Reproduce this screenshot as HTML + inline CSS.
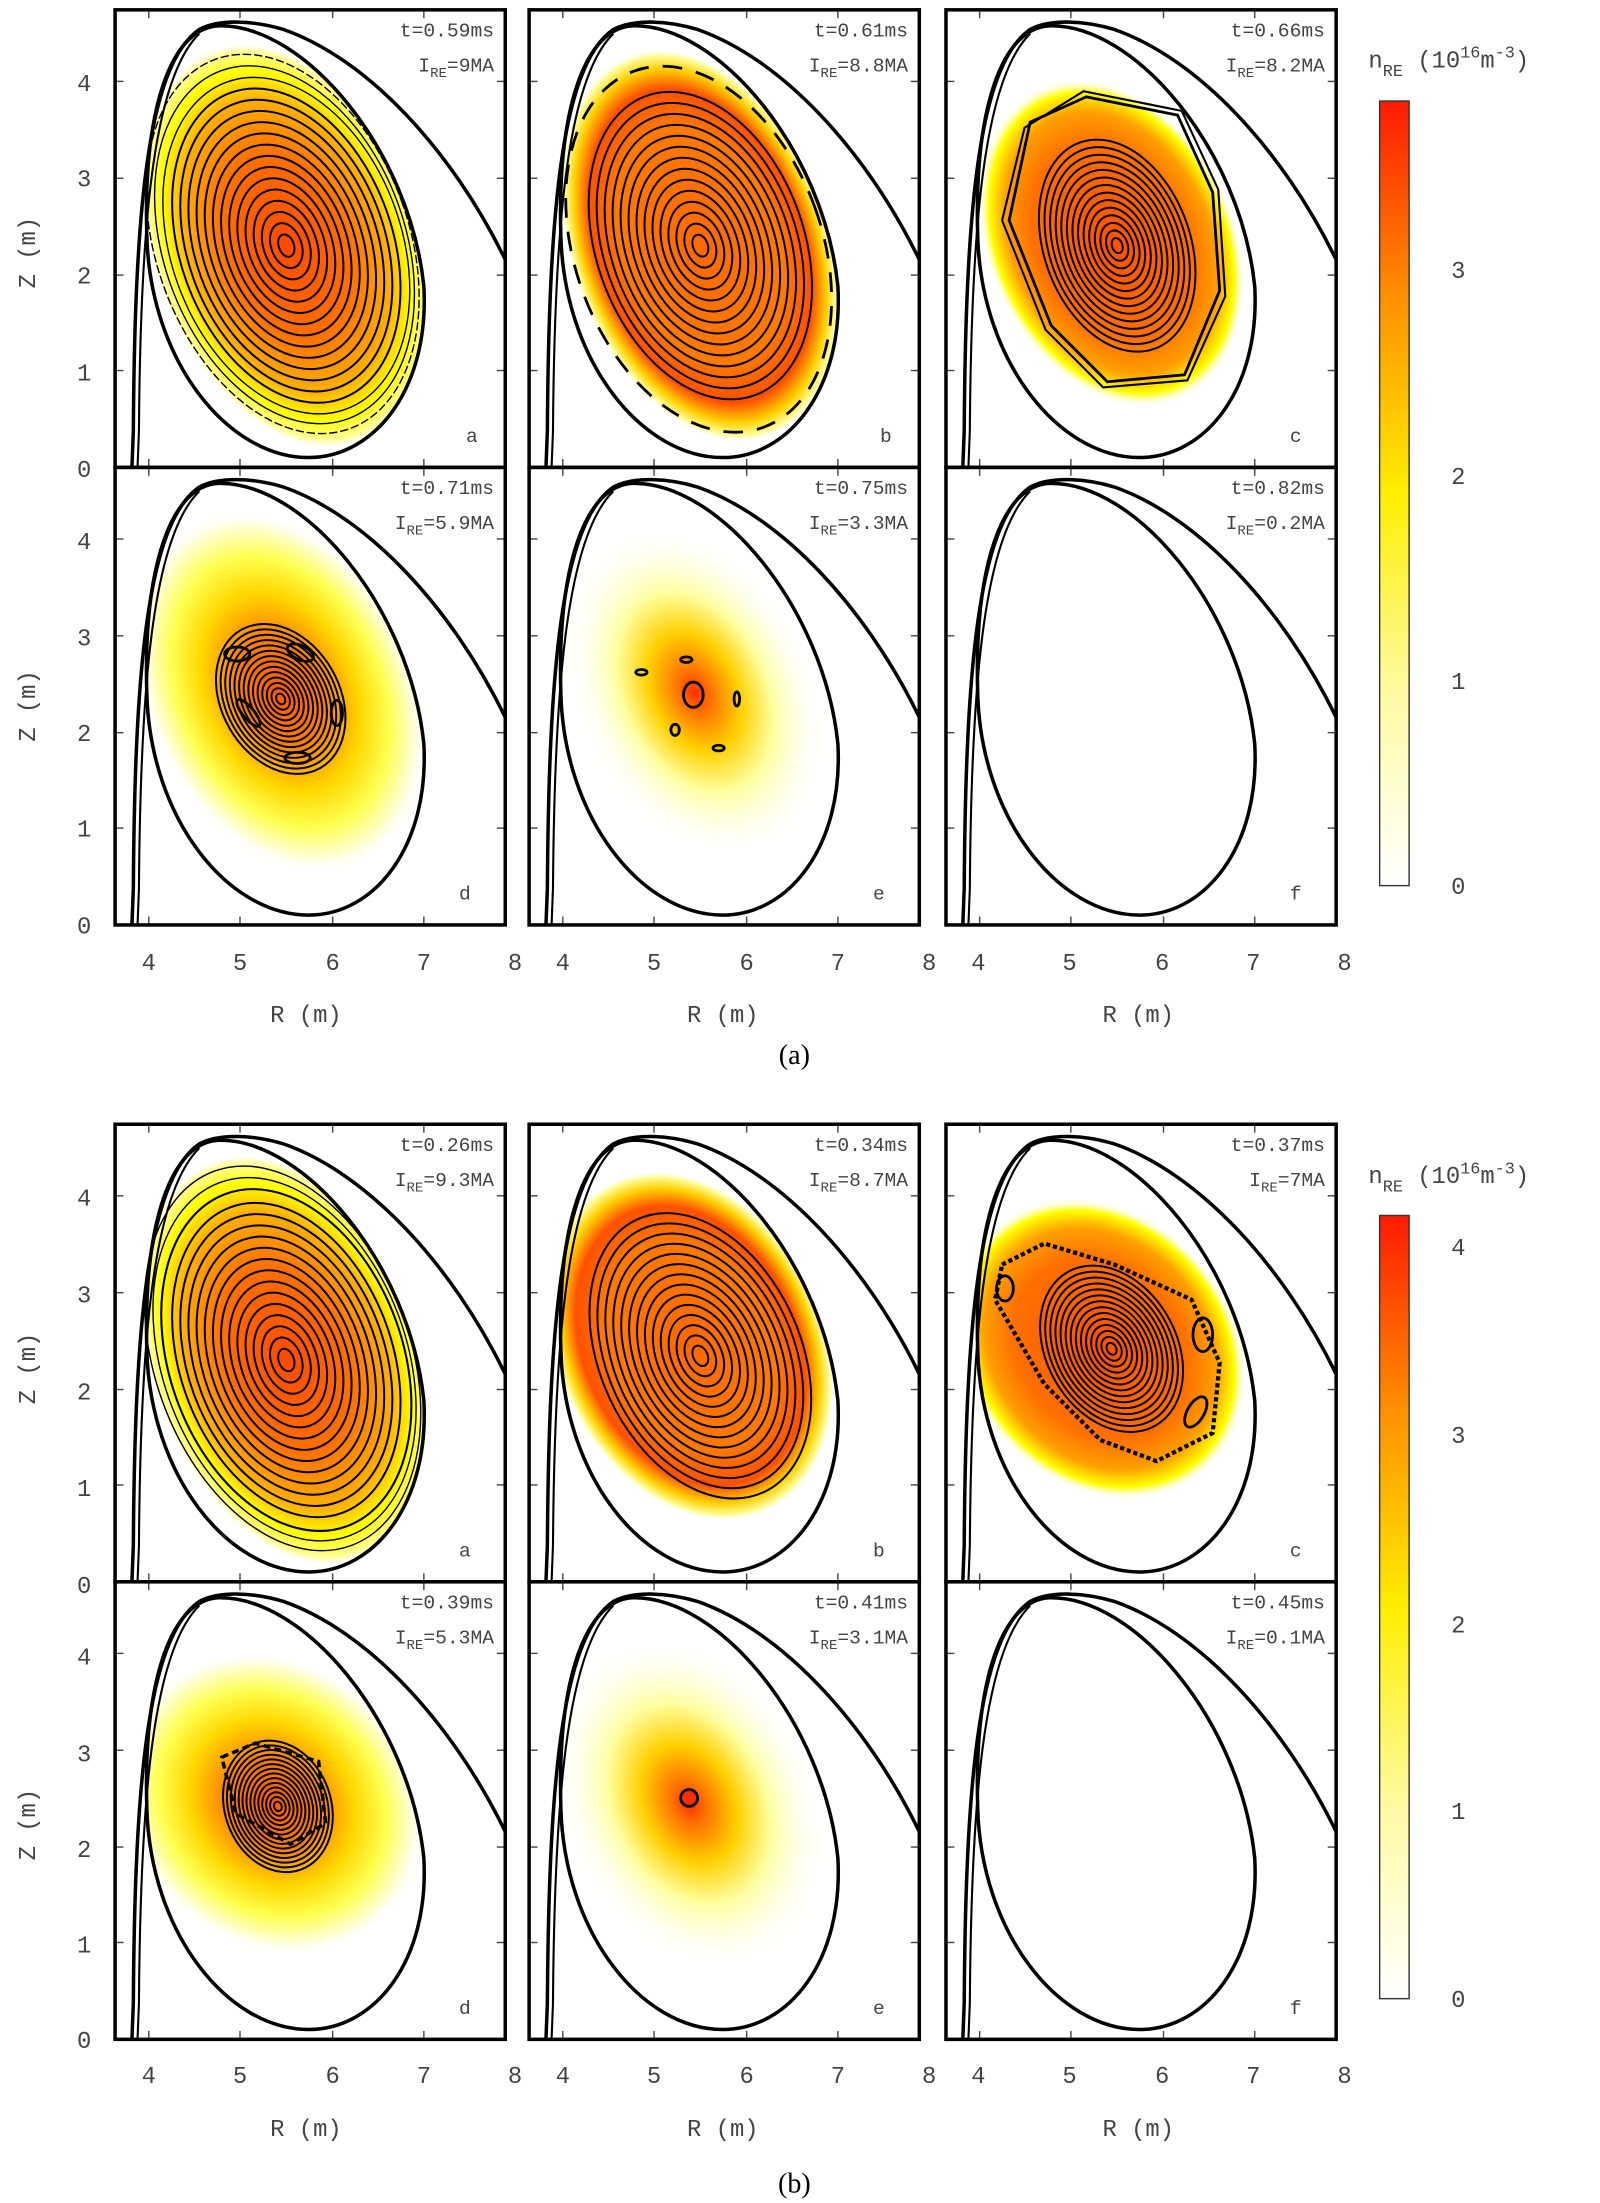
<!DOCTYPE html>
<html><head><meta charset="utf-8"><style>
html,body{margin:0;padding:0;background:#fff}
svg{display:block}
text{font-family:"Liberation Mono",monospace;fill:#444}
.tk{font-size:17px}
.tl{font-size:14px}
</style></head><body>
<svg width="1600" height="2203" viewBox="0 0 1140 1569.6" preserveAspectRatio="none" xmlns="http://www.w3.org/2000/svg">
<defs>
<clipPath id="pc"><rect x="0" y="0" width="278" height="326"/></clipPath>
<clipPath id="egg"><path d="M73.6,11.4 C135,10 210,100 220,197 C224,270 185,319 138,319 C80,319 25,250 22.6,161 C20,70 40,13 73.6,11.4 Z"/></clipPath>
<linearGradient id="cb" x1="0" y1="1" x2="0" y2="0">
<stop offset="0" stop-color="#ffffff"/><stop offset="0.25" stop-color="#fffaa0"/><stop offset="0.5" stop-color="#ffee00"/><stop offset="0.75" stop-color="#ff9000"/><stop offset="1" stop-color="#ff1a00"/></linearGradient>
<radialGradient id="gA"><stop offset="0" stop-color="#ff4a00"/><stop offset="0.45" stop-color="#ff7000"/><stop offset="0.72" stop-color="#ffb000"/><stop offset="0.86" stop-color="#ffff00"/><stop offset="0.96" stop-color="#ffffa0"/><stop offset="1" stop-color="#fff" stop-opacity="0"/></radialGradient>
<radialGradient id="gB"><stop offset="0" stop-color="#ff6800"/><stop offset="0.6" stop-color="#ff7a00"/><stop offset="0.8" stop-color="#ff5000"/><stop offset="0.9" stop-color="#ffd000"/><stop offset="0.97" stop-color="#ffffa0"/><stop offset="1" stop-color="#fff" stop-opacity="0"/></radialGradient>
<radialGradient id="gC"><stop offset="0" stop-color="#ff5000"/><stop offset="0.6" stop-color="#ff7000"/><stop offset="0.8" stop-color="#ffa000"/><stop offset="0.92" stop-color="#ffff00"/><stop offset="1" stop-color="#fff" stop-opacity="0"/></radialGradient>
<radialGradient id="gD"><stop offset="0" stop-color="#ff5a00"/><stop offset="0.3" stop-color="#ff8000"/><stop offset="0.55" stop-color="#ffd800"/><stop offset="0.75" stop-color="#ffff50"/><stop offset="0.92" stop-color="#ffffd8"/><stop offset="1" stop-color="#fff" stop-opacity="0"/></radialGradient>
<radialGradient id="gE"><stop offset="0" stop-color="#ff3000"/><stop offset="0.12" stop-color="#ff7000"/><stop offset="0.35" stop-color="#ffd000"/><stop offset="0.6" stop-color="#ffffa0"/><stop offset="1" stop-color="#fff" stop-opacity="0"/></radialGradient>
<g id="rings" fill="none" stroke="#000" stroke-width="2">
<ellipse rx="6" ry="9" vector-effect="non-scaling-stroke"/><ellipse rx="12" ry="18" vector-effect="non-scaling-stroke"/><ellipse rx="18" ry="27" vector-effect="non-scaling-stroke"/><ellipse rx="24" ry="36" vector-effect="non-scaling-stroke"/><ellipse rx="30" ry="45" vector-effect="non-scaling-stroke"/><ellipse rx="36" ry="54" vector-effect="non-scaling-stroke"/><ellipse rx="42" ry="63" vector-effect="non-scaling-stroke"/><ellipse rx="48" ry="72" vector-effect="non-scaling-stroke"/><ellipse rx="54" ry="81" vector-effect="non-scaling-stroke"/><ellipse rx="60" ry="90" vector-effect="non-scaling-stroke"/><ellipse rx="66" ry="99" vector-effect="non-scaling-stroke"/><ellipse rx="72" ry="108" vector-effect="non-scaling-stroke"/><ellipse rx="78" ry="117" vector-effect="non-scaling-stroke"/><ellipse rx="84" ry="126" vector-effect="non-scaling-stroke"/>
</g>
<g id="frame">
<path d="M12,326 L13,300 C14,150 22,40 60,14 C75,6 100,8 120,14 C180,35 240,100 278,178" fill="none" stroke="#000" stroke-width="2.5"/>
<path d="M16,326 L17,300 C18,160 26,50 60,17" fill="none" stroke="#000" stroke-width="1.5"/>
<path d="M73.6,11.4 C135,10 210,100 220,197 C224,270 185,319 138,319 C80,319 25,250 22.6,161 C20,70 40,13 73.6,11.4 Z" fill="none" stroke="#000" stroke-width="2.5"/>
<g stroke="#444" stroke-width="1"><line x1="24" y1="326" x2="24" y2="320"/><line x1="89" y1="326" x2="89" y2="320"/><line x1="155" y1="326" x2="155" y2="320"/><line x1="220" y1="326" x2="220" y2="320"/><line x1="24" y1="0" x2="24" y2="6"/><line x1="89" y1="0" x2="89" y2="6"/><line x1="155" y1="0" x2="155" y2="6"/><line x1="220" y1="0" x2="220" y2="6"/>
<line x1="0" y1="257" x2="6" y2="257"/><line x1="0" y1="189" x2="6" y2="189"/><line x1="0" y1="120" x2="6" y2="120"/><line x1="0" y1="51" x2="6" y2="51"/><line x1="278" y1="257" x2="272" y2="257"/><line x1="278" y1="189" x2="272" y2="189"/><line x1="278" y1="120" x2="272" y2="120"/><line x1="278" y1="51" x2="272" y2="51"/></g>
<rect x="0" y="0" width="278" height="326" fill="none" stroke="#000" stroke-width="2.5"/>
</g>
</defs>

<!-- ===== Figure (a) ===== -->
<g transform="translate(82,7)"><g clip-path="url(#pc)">
<g clip-path="url(#egg)"><ellipse cx="122" cy="168" rx="95" ry="150" transform="rotate(-20 122 168)" fill="url(#gA)"/></g>
<use href="#rings" transform="translate(122,168) rotate(-20) scale(0.9 0.92)"/>
<ellipse cx="122" cy="168" rx="82" ry="124" transform="rotate(-20 122 168)" fill="none" stroke="#000" stroke-width="1"/>
<ellipse cx="121" cy="167" rx="86" ry="132" transform="rotate(-20 122 168)" fill="none" stroke="#000" stroke-width="1"/>
<ellipse cx="120" cy="166" rx="90" ry="140" transform="rotate(-20 122 168)" fill="none" stroke="#000" stroke-width="1" stroke-dasharray="6 2"/>
</g><use href="#frame"/>
<text class="tl" x="270" y="19" text-anchor="end">t=0.59ms</text><text class="tl" x="270" y="44" text-anchor="end">I<tspan font-size="10" dy="4">RE</tspan><tspan dy="-4">=9MA</tspan></text><text class="tl" x="250" y="308">a</text></g>
<g transform="translate(377,7)"><g clip-path="url(#pc)">
<g clip-path="url(#egg)"><ellipse cx="122" cy="168" rx="92" ry="145" transform="rotate(-20 122 168)" fill="url(#gB)"/></g>
<use href="#rings" transform="translate(122,168) rotate(-20) scale(0.88 0.9)"/>
<ellipse cx="120" cy="170" rx="88" ry="135" transform="rotate(-20 122 168)" fill="none" stroke="#000" stroke-width="2" stroke-dasharray="14 10"/>
</g><use href="#frame"/>
<text class="tl" x="270" y="19" text-anchor="end">t=0.61ms</text><text class="tl" x="270" y="44" text-anchor="end">I<tspan font-size="10" dy="4">RE</tspan><tspan dy="-4">=8.8MA</tspan></text><text class="tl" x="250" y="308">b</text></g>
<g transform="translate(674,7)"><g clip-path="url(#pc)">
<g clip-path="url(#egg)"><ellipse cx="118" cy="166" rx="88" ry="122" transform="rotate(-25 118 166)" fill="url(#gC)"/></g>
<use href="#rings" transform="translate(122,168) rotate(-20) scale(0.62)"/>
<path d="M60,80 L100,62 L165,75 L190,130 L195,200 L170,260 L115,265 L75,225 L45,150 Z" fill="none" stroke="#000" stroke-width="2"/>
<path d="M56,84 L98,58 L168,72 L194,128 L199,204 L172,264 L112,269 L71,228 L40,150 Z" fill="none" stroke="#000" stroke-width="1.5"/>
</g><use href="#frame"/>
<text class="tl" x="270" y="19" text-anchor="end">t=0.66ms</text><text class="tl" x="270" y="44" text-anchor="end">I<tspan font-size="10" dy="4">RE</tspan><tspan dy="-4">=8.2MA</tspan></text><text class="tl" x="245" y="308">c</text></g>
<g transform="translate(82,333)"><g clip-path="url(#pc)">
<g clip-path="url(#egg)"><ellipse cx="118" cy="160" rx="95" ry="135" transform="rotate(-25 118 160)" fill="url(#gD)"/></g>
<use href="#rings" transform="translate(118,165) rotate(-30) scale(0.5 0.45)"/>
<ellipse cx="87" cy="133" rx="9" ry="5" fill="none" stroke="#000" stroke-width="2"/>
<ellipse cx="132" cy="132" rx="10" ry="5" transform="rotate(25 132 132)" fill="none" stroke="#000" stroke-width="2"/>
<ellipse cx="95" cy="175" rx="12" ry="4" transform="rotate(50 95 175)" fill="none" stroke="#000" stroke-width="2"/>
<ellipse cx="158" cy="175" rx="4" ry="9" fill="none" stroke="#000" stroke-width="2"/>
<ellipse cx="130" cy="207" rx="9" ry="4" fill="none" stroke="#000" stroke-width="2"/>
</g><use href="#frame"/>
<text class="tl" x="270" y="19" text-anchor="end">t=0.71ms</text><text class="tl" x="270" y="44" text-anchor="end">I<tspan font-size="10" dy="4">RE</tspan><tspan dy="-4">=5.9MA</tspan></text><text class="tl" x="245" y="308">d</text></g>
<g transform="translate(377,333)"><g clip-path="url(#pc)">
<g clip-path="url(#egg)"><ellipse cx="118" cy="160" rx="85" ry="125" transform="rotate(-25 118 160)" fill="url(#gE)"/></g>
<ellipse cx="117" cy="162" rx="7" ry="9" fill="none" stroke="#000" stroke-width="2"/>
<ellipse cx="112" cy="137" rx="4" ry="2" fill="none" stroke="#000" stroke-width="2"/>
<ellipse cx="80" cy="146" rx="4" ry="2" fill="none" stroke="#000" stroke-width="2"/>
<ellipse cx="148" cy="165" rx="2" ry="5" fill="none" stroke="#000" stroke-width="2"/>
<ellipse cx="104" cy="187" rx="3" ry="4" fill="none" stroke="#000" stroke-width="2"/>
<ellipse cx="135" cy="200" rx="4" ry="2" fill="none" stroke="#000" stroke-width="2"/>
</g><use href="#frame"/>
<text class="tl" x="270" y="19" text-anchor="end">t=0.75ms</text><text class="tl" x="270" y="44" text-anchor="end">I<tspan font-size="10" dy="4">RE</tspan><tspan dy="-4">=3.3MA</tspan></text><text class="tl" x="245" y="308">e</text></g>
<g transform="translate(674,333)"><use href="#frame"/>
<text class="tl" x="270" y="19" text-anchor="end">t=0.82ms</text><text class="tl" x="270" y="44" text-anchor="end">I<tspan font-size="10" dy="4">RE</tspan><tspan dy="-4">=0.2MA</tspan></text><text class="tl" x="245" y="308">f</text></g>

<g class="tk" text-anchor="middle">
<text x="60" y="65">4</text><text x="60" y="133">3</text><text x="60" y="202">2</text><text x="60" y="271">1</text><text x="60" y="340">0</text>
<text x="60" y="391">4</text><text x="60" y="460">3</text><text x="60" y="528">2</text><text x="60" y="596">1</text><text x="60" y="665">0</text>
<text x="106" y="691">4</text><text x="171" y="691">5</text><text x="237" y="691">6</text><text x="302" y="691">7</text><text x="367" y="691">8</text>
<text x="401" y="691">4</text><text x="466" y="691">5</text><text x="532" y="691">6</text><text x="597" y="691">7</text><text x="662" y="691">8</text>
<text x="697" y="691">4</text><text x="762" y="691">5</text><text x="828" y="691">6</text><text x="893" y="691">7</text><text x="958" y="691">8</text>
<text x="218" y="728">R (m)</text><text x="515" y="728">R (m)</text><text x="811" y="728">R (m)</text>
<text transform="translate(25,180) rotate(-90)">Z (m)</text><text transform="translate(25,503) rotate(-90)">Z (m)</text>
<text x="1039" y="637">0</text><text x="1039" y="491">1</text><text x="1039" y="345">2</text><text x="1039" y="198">3</text>
</g>
<rect x="983" y="72" width="21" height="559" fill="url(#cb)" stroke="#333" stroke-width="1"/>
<text x="975" y="48" font-size="17">n<tspan font-size="12" dy="6">RE</tspan><tspan dy="-6"> (10</tspan><tspan font-size="12" dy="-7">16</tspan><tspan dy="7">m</tspan><tspan font-size="12" dy="-7">-3</tspan><tspan dy="7">)</tspan></text>
<text x="566" y="758" font-size="20" style="font-family:'Liberation Serif',serif;fill:#000" text-anchor="middle">(a)</text>

<!-- ===== Figure (b) ===== -->
<g transform="translate(82,801)"><g clip-path="url(#pc)">
<g clip-path="url(#egg)"><ellipse cx="122" cy="168" rx="96" ry="152" transform="rotate(-20 122 168)" fill="url(#gA)"/></g>
<use href="#rings" transform="translate(122,168) rotate(-20) scale(0.9 0.92)"/>
<ellipse cx="122" cy="168" rx="83" ry="126" transform="rotate(-20 122 168)" fill="none" stroke="#000" stroke-width="1.5"/>
<ellipse cx="121" cy="167" rx="87" ry="134" transform="rotate(-20 122 168)" fill="none" stroke="#000" stroke-width="1"/>
<ellipse cx="120" cy="166" rx="91" ry="142" transform="rotate(-20 122 168)" fill="none" stroke="#000" stroke-width="1"/>
</g><use href="#frame"/>
<text class="tl" x="270" y="19" text-anchor="end">t=0.26ms</text><text class="tl" x="270" y="44" text-anchor="end">I<tspan font-size="10" dy="4">RE</tspan><tspan dy="-4">=9.3MA</tspan></text><text class="tl" x="245" y="308">a</text></g>
<g transform="translate(377,801)"><g clip-path="url(#pc)">
<g clip-path="url(#egg)"><ellipse cx="115" cy="158" rx="95" ry="130" transform="rotate(-25 115 158)" fill="url(#gB)"/></g>
<use href="#rings" transform="translate(122,165) rotate(-25) scale(0.85 0.85)"/>
</g><use href="#frame"/>
<text class="tl" x="270" y="19" text-anchor="end">t=0.34ms</text><text class="tl" x="270" y="44" text-anchor="end">I<tspan font-size="10" dy="4">RE</tspan><tspan dy="-4">=8.7MA</tspan></text><text class="tl" x="245" y="308">b</text></g>
<g transform="translate(674,801)"><g clip-path="url(#pc)">
<g clip-path="url(#egg)"><ellipse cx="110" cy="160" rx="95" ry="115" transform="rotate(-40 110 160)" fill="url(#gC)"/></g>
<use href="#rings" transform="translate(118,160) rotate(-30) scale(0.55 0.5)"/>
<path d="M40,100 L70,85 L120,100 L175,125 L195,170 L190,220 L150,240 L110,225 L70,185 L35,125 Z" fill="none" stroke="#000" stroke-width="3" stroke-dasharray="3 2"/>
<ellipse cx="42" cy="117" rx="6" ry="9" fill="none" stroke="#000" stroke-width="2"/>
<ellipse cx="183" cy="150" rx="7" ry="12" fill="none" stroke="#000" stroke-width="2"/>
<ellipse cx="178" cy="205" rx="6" ry="12" transform="rotate(30 178 205)" fill="none" stroke="#000" stroke-width="2"/>
</g><use href="#frame"/>
<text class="tl" x="270" y="19" text-anchor="end">t=0.37ms</text><text class="tl" x="270" y="44" text-anchor="end">I<tspan font-size="10" dy="4">RE</tspan><tspan dy="-4">=7MA</tspan></text><text class="tl" x="245" y="308">c</text></g>
<g transform="translate(82,1127)"><g clip-path="url(#pc)">
<g clip-path="url(#egg)"><ellipse cx="112" cy="158" rx="100" ry="115" transform="rotate(-45 112 158)" fill="url(#gD)"/></g>
<use href="#rings" transform="translate(116,160) rotate(-20) scale(0.45 0.38)"/>
<path d="M76,125 L100,115 L145,128 L150,172 L125,187 L86,165 Z" fill="none" stroke="#000" stroke-width="2.5" stroke-dasharray="5 3"/>
</g><use href="#frame"/>
<text class="tl" x="270" y="19" text-anchor="end">t=0.39ms</text><text class="tl" x="270" y="44" text-anchor="end">I<tspan font-size="10" dy="4">RE</tspan><tspan dy="-4">=5.3MA</tspan></text><text class="tl" x="245" y="308">d</text></g>
<g transform="translate(377,1127)"><g clip-path="url(#pc)">
<g clip-path="url(#egg)"><ellipse cx="114" cy="158" rx="90" ry="125" transform="rotate(-25 114 158)" fill="url(#gE)"/></g>
<circle cx="114" cy="154" r="6" fill="#ff3000" stroke="#000" stroke-width="2"/>
</g><use href="#frame"/>
<text class="tl" x="270" y="19" text-anchor="end">t=0.41ms</text><text class="tl" x="270" y="44" text-anchor="end">I<tspan font-size="10" dy="4">RE</tspan><tspan dy="-4">=3.1MA</tspan></text><text class="tl" x="245" y="308">e</text></g>
<g transform="translate(674,1127)"><use href="#frame"/>
<text class="tl" x="270" y="19" text-anchor="end">t=0.45ms</text><text class="tl" x="270" y="44" text-anchor="end">I<tspan font-size="10" dy="4">RE</tspan><tspan dy="-4">=0.1MA</tspan></text><text class="tl" x="245" y="308">f</text></g>

<g class="tk" text-anchor="middle">
<text x="60" y="859">4</text><text x="60" y="928">3</text><text x="60" y="997">2</text><text x="60" y="1066">1</text><text x="60" y="1135">0</text>
<text x="60" y="1186">4</text><text x="60" y="1255">3</text><text x="60" y="1323">2</text><text x="60" y="1391">1</text><text x="60" y="1459">0</text>
<text x="106" y="1484">4</text><text x="171" y="1484">5</text><text x="237" y="1484">6</text><text x="302" y="1484">7</text><text x="367" y="1484">8</text>
<text x="401" y="1484">4</text><text x="466" y="1484">5</text><text x="532" y="1484">6</text><text x="597" y="1484">7</text><text x="662" y="1484">8</text>
<text x="697" y="1484">4</text><text x="762" y="1484">5</text><text x="828" y="1484">6</text><text x="893" y="1484">7</text><text x="958" y="1484">8</text>
<text x="218" y="1522">R (m)</text><text x="515" y="1522">R (m)</text><text x="811" y="1522">R (m)</text>
<text transform="translate(25,975) rotate(-90)">Z (m)</text><text transform="translate(25,1300) rotate(-90)">Z (m)</text>
<text x="1039" y="1430">0</text><text x="1039" y="1296">1</text><text x="1039" y="1163">2</text><text x="1039" y="1028">3</text><text x="1039" y="894">4</text>
</g>
<rect x="983" y="866" width="21" height="558" fill="url(#cb)" stroke="#333" stroke-width="1"/>
<text x="975" y="843" font-size="17">n<tspan font-size="12" dy="6">RE</tspan><tspan dy="-6"> (10</tspan><tspan font-size="12" dy="-7">16</tspan><tspan dy="7">m</tspan><tspan font-size="12" dy="-7">-3</tspan><tspan dy="7">)</tspan></text>
<text x="566" y="1562" font-size="20" style="font-family:'Liberation Serif',serif;fill:#000" text-anchor="middle">(b)</text>
</svg>
</body></html>
